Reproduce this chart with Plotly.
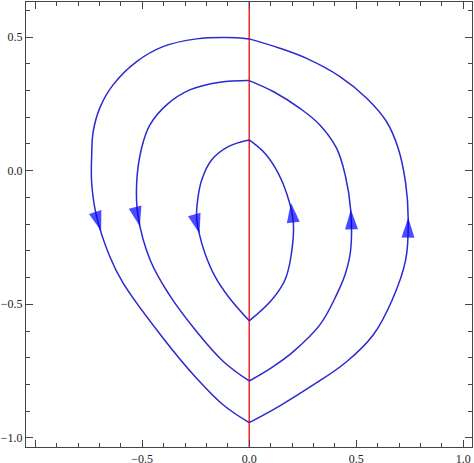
import plotly.graph_objects as go

# ---- data (data units) ----
outer_left_x = [0, -0.106, -0.246, -0.403, -0.526, -0.637, -0.698, -0.729, -0.736, -0.736, -0.713, -0.651, -0.589, -0.402, -0.246, -0.121, 0]
outer_left_y = [0.493, 0.498, 0.493, 0.464, 0.408, 0.320, 0.235, 0.146, 0.059, -0.047, -0.172, -0.322, -0.421, -0.627, -0.777, -0.877, -0.943]
outer_right_x = [0, 0.143, 0.268, 0.424, 0.549, 0.642, 0.696, 0.731, 0.743, 0.731, 0.668, 0.579, 0.455, 0.299, 0.143, 0]
outer_right_y = [0.493, 0.458, 0.420, 0.352, 0.271, 0.183, 0.084, -0.047, -0.184, -0.334, -0.484, -0.615, -0.715, -0.802, -0.880, -0.943]

middle_left_x = [0, -0.137, -0.278, -0.386, -0.464, -0.503, -0.526, -0.519, -0.463, -0.373, -0.246, -0.121, 0]
middle_left_y = [0.337, 0.331, 0.302, 0.246, 0.171, 0.084, -0.047, -0.172, -0.334, -0.465, -0.602, -0.714, -0.787]
middle_right_x = [0, 0.112, 0.237, 0.330, 0.408, 0.450, 0.474, 0.474, 0.450, 0.408, 0.330, 0.206, 0.112, 0]
middle_right_y = [0.337, 0.296, 0.233, 0.171, 0.084, -0.022, -0.147, -0.297, -0.384, -0.465, -0.577, -0.677, -0.733, -0.787]

inner_left_x = [0, -0.098, -0.176, -0.222, -0.241, -0.246, -0.234, -0.207, -0.160, -0.098, 0]
inner_left_y = [0.115, 0.090, 0.040, -0.035, -0.110, -0.172, -0.234, -0.309, -0.396, -0.471, -0.562]
inner_right_x = [0, 0.073, 0.136, 0.175, 0.206, 0.195, 0.167, 0.105, 0]
inner_right_y = [0.115, 0.065, -0.010, -0.085, -0.191, -0.322, -0.409, -0.484, -0.562]

# arrows: tail (direction) and tip positions
arrow_tail_x = [-0.713, -0.526, -0.254, 0.206, 0.478, 0.742]
arrow_tail_y = [-0.172, -0.160, -0.172, -0.195, -0.218, -0.245]
arrow_tip_x = [-0.692, -0.511, -0.232, 0.195, 0.475, 0.743]
arrow_tip_y = [-0.226, -0.209, -0.236, -0.120, -0.145, -0.176]

axis_x = [0, 0]
axis_y = [-1.2, 0.8]

x_tickvals = [-1.0, -0.5, 0.0, 0.5, 1.0]
x_ticktext = ["", "\u22120.5", "0.0", "0.5", "1.0"]
y_tickvals = [-1.0, -0.5, 0.0, 0.5]
y_ticktext = ["\u22121.0", "\u22120.5", "0.0", "0.5"]

BLUE = "#2a2ad0"
RED = "#f01818"

fig = go.Figure()
fig.add_trace(go.Scatter(x=axis_x, y=axis_y, mode="lines",
                         line=dict(color=RED, width=1.4), hoverinfo="skip"))

arcs = [(outer_left_x, outer_left_y), (outer_right_x, outer_right_y),
        (middle_left_x, middle_left_y), (middle_right_x, middle_right_y),
        (inner_left_x, inner_left_y), (inner_right_x, inner_right_y)]
for ax_, ay_ in arcs:
    fig.add_trace(go.Scatter(x=ax_, y=ay_, mode="lines",
                             line=dict(color=BLUE, width=1.5, shape="spline", smoothing=1.1)))

for tx, ty, hx, hy in zip(arrow_tail_x, arrow_tail_y, arrow_tip_x, arrow_tip_y):
    fig.add_trace(go.Scatter(x=[tx, hx], y=[ty, hy], mode="markers",
                             marker=dict(symbol="arrow", angleref="previous",
                                         size=[0, 21], color="#0000ff",
                                         line=dict(width=0))))

axis_common = dict(showgrid=False, zeroline=False, showline=True, mirror="ticks",
                   linecolor="#444444", linewidth=1.3, ticks="inside",
                   ticklen=7, tickwidth=1.2, tickcolor="#444444", automargin=False,
                   tickfont=dict(family="Liberation Serif", size=12, color="#222222"))

fig.update_xaxes(range=[-1.043, 1.041], tickvals=x_tickvals, ticktext=x_ticktext,
                 minor=dict(dtick=0.1, tick0=0, ticks="inside", ticklen=4,
                            tickwidth=1.0, tickcolor="#444444"),
                 **axis_common)
fig.update_yaxes(range=[-1.034, 0.631], tickvals=y_tickvals, ticktext=y_ticktext,
                 minor=dict(dtick=0.1, tick0=0, ticks="inside", ticklen=4,
                            tickwidth=1.0, tickcolor="#444444"),
                 **axis_common)

fig.update_layout(width=474, height=463, showlegend=False,
                  margin=dict(l=26, r=2, t=2, b=16),
                  paper_bgcolor="white", plot_bgcolor="white")

fig.write_html("out.html", config={"displayModeBar": False},
               post_script="document.body.style.margin='0';document.body.style.overflow='hidden';")
